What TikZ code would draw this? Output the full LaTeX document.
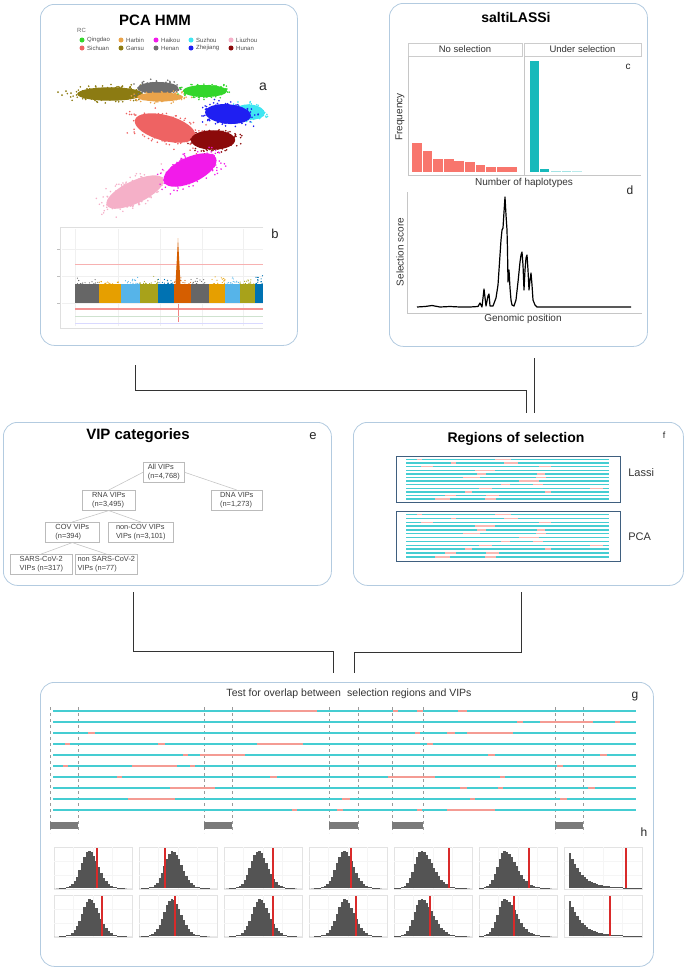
\documentclass[tikz,border=0pt]{standalone}
\usepackage{fontspec}
\setmainfont{Liberation Sans}
\usetikzlibrary{positioning}

\definecolor{panelblue}{HTML}{B3CBE0}
\definecolor{linkgray}{HTML}{333333}
\definecolor{boxgray}{HTML}{BBBBBB}
\definecolor{regframe}{HTML}{3F5F7F}
\definecolor{cqing}{HTML}{33D62B}
\definecolor{charb}{HTML}{E9A34A}
\definecolor{chaik}{HTML}{F21BEA}
\definecolor{csuz}{HTML}{3FE6F2}
\definecolor{cliu}{HTML}{F5B0C8}
\definecolor{csich}{HTML}{EE6363}
\definecolor{cgans}{HTML}{8C7B12}
\definecolor{chen}{HTML}{6E6E6E}
\definecolor{czhe}{HTML}{1F1FF2}
\definecolor{chun}{HTML}{8B0A0A}
\definecolor{mgray}{HTML}{666666}
\definecolor{morange}{HTML}{E69F00}
\definecolor{msky}{HTML}{56B4E9}
\definecolor{molive}{HTML}{A8A21A}
\definecolor{mblue}{HTML}{0072B2}
\definecolor{mverm}{HTML}{D55E00}
\definecolor{barred}{HTML}{F8766D}
\definecolor{barteal}{HTML}{17B9BB}
\definecolor{tealc}{HTML}{45CDD2}
\definecolor{pinkc}{HTML}{F49B93}
\definecolor{histc}{HTML}{545454}
\definecolor{redc}{HTML}{D92A2A}

\tikzset{
  panel/.style={draw=panelblue, line width=0.8pt, rounded corners=14pt, anchor=north west, inner sep=0pt},
  ptitle/.style={font=\bfseries\fontsize{15}{17}\selectfont},
  plab/.style={font=\fontsize{13}{14}\selectfont, text=black!85},
  legtext/.style={font=\fontsize{6}{7}\selectfont, text=black!70, anchor=west, inner sep=1pt},
  axlab/.style={font=\fontsize{10}{11}\selectfont, text=black!80},
  vipbox/.style={draw=boxgray, line width=0.6pt, align=left, font=\fontsize{7.4}{8.6}\selectfont, text=black!75, inner sep=1.5pt, anchor=north west, minimum height=20pt},
  vipedge/.style={draw=gray!45, line width=0.6pt},
  link/.style={draw=linkgray, line width=0.9pt},
  regbox/.style={draw=regframe, line width=0.8pt, anchor=north west, inner sep=0pt},
  tealline/.style={draw=tealc, line width=2pt},
  pinkline/.style={draw=pinkc, line width=2pt},
  cutline/.style={draw=gray!80, dashed, line width=0.6pt},
  redmark/.style={draw=redc, line width=2pt}
}

\begin{document}
\begin{tikzpicture}[x=1pt,y=-1pt]
\useasboundingbox (0,0) rectangle (685,970);
\pgfmathsetseed{11}
\newcommand{\cloud}[7]{%
  \begin{scope}[shift={(#1,#2)},rotate=#5]
    \fill[#6] (0,0) ellipse [x radius=#3*0.82, y radius=#4*0.75];
    \foreach \i in {1,...,#7}{
      \pgfmathsetmacro\ptx{(rand+rand+rand)*0.42*#3}
      \pgfmathsetmacro\pty{(rand+rand+rand)*0.42*#4}
      \fill[#6] (\ptx,\pty) circle[radius=0.9pt];
    }
  \end{scope}}
\newcommand{\hframe}[2]{%
  \draw[gray!22, line width=0.6pt] (#1,#2) rectangle ++(78,42);
  \foreach \g in {19.5,39,58.5} \draw[gray!8, line width=0.4pt] (#1+\g,#2) -- ++(0,42);
  \foreach \g in {14,28} \draw[gray!8, line width=0.4pt] (#1,#2+\g) -- ++(78,0);}
\newcommand{\histo}[6]{%
  \hframe{#1}{#2}
  \foreach \k in {0,...,31}{
    \pgfmathsetmacro\hcen{(\k+0.5)/32}
    \pgfmathsetmacro\sg{\hcen<#3 ? #5 : #6}
    \pgfmathsetmacro\hh{37*exp(-0.5*((\hcen-#3)/\sg)^2)}
    \fill[histc] (#1+2.4375*\k,#2+41) rectangle ++(2.45,-\hh);
  }
  \pgfmathsetmacro\rx{round(#1+78*#4)+0.5}
  \draw[redmark] (\rx,#2+1) -- (\rx,#2+41);}
\newcommand{\histd}[3]{%
  \hframe{#1}{#2}
  \foreach \k in {2,...,31}{
    \pgfmathsetmacro\hcen{(\k+0.5)/32}
    \pgfmathsetmacro\hh{37*exp(-(\hcen-0.07)/0.16)}
    \fill[histc] (#1+2.4375*\k,#2+41) rectangle ++(2.45,-\hh);
  }
  \pgfmathsetmacro\rx{round(#1+78*#3)+0.5}
  \draw[redmark] (\rx,#2+1) -- (\rx,#2+41);}
\newcommand{\regrows}[2]{%
  \pgfmathsetseed{5}
  \foreach \k in {0,...,11}{
    \draw[tealc, line width=1.4pt] (406,#1+#2*\k) -- (609,#1+#2*\k);
    \foreach \m in {1,2}{
      \pgfmathsetmacro\pa{406+185*rnd}
      \pgfmathsetmacro\pl{5+12*rnd}
      \draw[pinkc!70, line width=1.4pt] (\pa,#1+#2*\k) -- ++(\pl,0);
    }
  }}

% panels
\node[panel, minimum width=257, minimum height=341] (pcapanel) at (40,4) {};
\node[panel, minimum width=258, minimum height=343] (lassipanel) at (389,3) {};
\node[panel, minimum width=328, minimum height=163] (vippanel) at (3,422) {};
\node[panel, minimum width=330, minimum height=163] (regpanel) at (353,422) {};
\node[panel, minimum width=613, minimum height=284] (testpanel) at (40,682) {};

% PCA HMM
\node[ptitle] (pcatitle) at (155,20) {PCA HMM};
\node[legtext, text=black!60] (rc) at (76,30) {RC};
\foreach \nm/\col/\xx/\yy in {Qingdao/cqing/82/40, Harbin/charb/121/40, Haikou/chaik/156/40, Suzhou/csuz/191/40, Liuzhou/cliu/231/40,
    Sichuan/csich/82/48, Gansu/cgans/121/48, Henan/chen/156/48, Zhejiang/czhe/191/48, Hunan/chun/231/48} {
  \fill[\col] (\xx,\yy) circle[radius=2.5pt];
  \node[legtext] (leg\nm) at (\xx+4,\yy) {\nm};
}
\cloud{110}{94}{40}{9}{0}{cgans}{260}
\cloud{158}{88}{25}{8}{0}{chen}{180}
\cloud{160}{97}{28}{6}{0}{charb}{150}
\cloud{205}{91}{27}{8}{0}{cqing}{200}
\cloud{250}{112}{18}{10}{-5}{csuz}{120}
\cloud{228}{114}{28}{13}{-5}{czhe}{260}
\cloud{165}{128}{38}{17}{-15}{csich}{300}
\cloud{213}{140}{27}{13}{0}{chun}{240}
\cloud{135}{192}{38}{15}{25}{cliu}{280}
\cloud{190}{170}{35}{17}{25}{chaik}{280}
\foreach \ox/\oy in {58/92, 62/95, 66/91, 71/93}
  \fill[cgans] (\ox,\oy) circle[radius=1pt];
\node[plab, font=\fontsize{14}{15}\selectfont] (laba) at (263,87) {a};

% manhattan
\draw[gray!25, line width=0.6pt] (263,227) -- (60,227) -- (60,328) -- (263,328);
\foreach \gx in {75,118,160,202,243} \draw[gray!12, line width=0.4pt] (\gx,229) -- (\gx,326);
\foreach \gy in {249,276,303} {
  \draw[gray!12, line width=0.4pt] (62,\gy) -- (263,\gy);
  \draw[gray!50, line width=0.5pt] (57,\gy) -- (60,\gy);
}
\draw[csich!50, line width=0.6pt] (75,264) -- (263,264);
\foreach \xa/\xb/\col in {75/99/mgray, 99/121/morange, 121/140/msky, 140/158/molive, 158/174/mblue, 174/191/mverm,
    191/209/mgray, 209/225/morange, 225/240/msky, 240/255/molive, 255/263/mblue} {
  \fill[\col] (\xa,303) rectangle (\xb,284);
  \foreach \j in {1,...,14} {
    \pgfmathsetmacro\ptx{\xa+(\xb-\xa)*rnd}
    \pgfmathsetmacro\pty{284-9*rnd*rnd}
    \fill[\col] (\ptx,\pty) circle[radius=0.6pt];
  }
}
\fill[mverm] (175.5,284) -- (178,238) -- (180.5,284) -- cycle;
\draw[csich!70, line width=1.2pt] (75,309) -- (263,309);
\draw[csich!80, line width=1pt] (178,304) -- (178,322);
\draw[green!25!gray!30, line width=0.6pt] (75,316) -- (263,316);
\draw[blue!15, line width=0.6pt] (75,323) -- (263,323);
\node[plab] (labb) at (275,234) {b};

% saltiLASSi
\node[ptitle, font=\bfseries\fontsize{14}{16}\selectfont] (lassititle) at (516,17) {saltiLASSi};
\node[draw=gray!40, minimum width=114, minimum height=13, inner sep=0pt, font=\fontsize{9.5}{10}\selectfont, text=black!80] (nosel) at (465,49.5) {No selection};
\node[draw=gray!40, minimum width=117, minimum height=13, inner sep=0pt, font=\fontsize{9.5}{10}\selectfont, text=black!80] (undersel) at (582.5,49.5) {Under selection};
\draw[gray!45, line width=0.6pt] (408,56) -- (408,175) -- (641,175);
\draw[gray!45, line width=0.6pt] (524,56) -- (524,175);
\foreach \t [count=\k from 0] in {143,151,159,159,161,162,165,167,167,167}
  \fill[barred] (412+10.6*\k,172) rectangle ++(9.8,\t-172);
\fill[barteal] (530,172) rectangle (539,61);
\fill[barteal] (540,172) rectangle (549,169);
\fill[barteal!40] (551,172) rectangle (561,170.5);
\fill[barteal!40] (562,172) rectangle (571,171);
\fill[barteal!30] (572,172) rectangle (582,171);
\node[plab, font=\fontsize{10}{11}\selectfont] (labc) at (628,67) {c};
\node[axlab, rotate=90] (freq) at (400,117) {Frequency};
\node[axlab] (nhap) at (524,183) {Number of haplotypes};
\draw[gray!45, line width=0.6pt] (407,192) -- (407,313) -- (642,313);
\draw[black, line width=1.2pt, line join=round] plot coordinates {(417,307) (425,306.5) (432,305.5) (440,307) (450,306.5) (460,307) (470,307) (478,306.5)
  (480,303) (482,307) (484,289) (486,306) (488,296) (489,294) (490,306) (493,306) (496,298) (498,285) (500,255) (501,240) (502,230)
  (503,228) (504,212) (505,197) (506,215) (507,230) (507.5,250) (508,282) (509,270) (510,288) (511,300) (512,305) (514,306) (516,300)
  (518,282) (520,262) (521,255) (522,252) (523,265) (524,290) (525,270) (526,258) (527,255) (528,270) (529,290) (530,280) (531,273)
  (532,285) (533,300) (535,305) (537,307) (631,307)};
\node[plab, font=\fontsize{12}{13}\selectfont] (labd) at (630,190) {d};
\node[axlab, rotate=90] (selscore) at (400,252) {Selection score};
\node[axlab] (genpos) at (523,319) {Genomic position};

% VIP categories
\node[ptitle] (viptitle) at (138,436) {VIP categories};
\node[plab] (labe) at (313,436) {e};
\node[vipbox, minimum width=41] (allvip) at (143,462) {All VIPs\\(n=4,768)};
\node[vipbox, minimum width=53] (rnavip) at (82,490) {RNA VIPs\\(n=3,495)};
\node[vipbox, minimum width=51] (dnavip) at (211,490) {DNA VIPs\\(n=1,273)};
\node[vipbox, minimum width=54] (covvip) at (45,522) {COV VIPs\\(n=394)};
\node[vipbox, minimum width=65] (ncovvip) at (108,522) {non-COV VIPs\\VIPs (n=3,101)};
\node[vipbox, minimum width=62] (sarsvip) at (10,554) {SARS-CoV-2\\VIPs (n=317)};
\node[vipbox, minimum width=62] (nsarsvip) at (75,554) {non SARS-CoV-2\\VIPs (n=77)};
\draw[vipedge] (allvip.west) -- (rnavip.north);
\draw[vipedge] (allvip.east) -- (dnavip.north);
\draw[vipedge] (rnavip.south) -- (covvip.north);
\draw[vipedge] (rnavip.south) -- (ncovvip.north);
\draw[vipedge] (covvip.south) -- (sarsvip.north);
\draw[vipedge] (covvip.south) -- (nsarsvip.north);

% Regions of selection
\node[ptitle, font=\bfseries\fontsize{14}{16}\selectfont] (regtitle) at (516,439) {Regions of selection};
\node[plab, font=\fontsize{9}{10}\selectfont] (labf) at (664,435) {f};
\regrows{459.5}{3.6}
\regrows{514.5}{3.85}
\node[regbox, minimum width=224, minimum height=46] (lassibox) at (396,456) {};
\node[regbox, minimum width=224, minimum height=50] (pcabox) at (396,511) {};
\node[axlab, font=\fontsize{11}{12}\selectfont, right=4pt of lassibox.east, yshift=7pt] (lassilab) {Lassi};
\node[axlab, font=\fontsize{11}{12}\selectfont, right=4pt of pcabox.east] (pcalab) {PCA};

% overlap test
\node[font=\fontsize{10.5}{12}\selectfont, text=black!80] (testtitle) at (349,694) {Test for overlap between\hspace{0.6em}selection regions and VIPs};
\node[plab, font=\fontsize{12}{13}\selectfont] (labg) at (635,697) {g};
\foreach \cx in {50,78,204,232,329,358,392,423,555,583} \draw[cutline] (\cx,707) -- (\cx,833);
\foreach \ly/\segs in {711/{270/317,393/398,417/423,458/467}, 722/{517/523,540/593,615/620},
    733/{88/95,415/420,447/455,467/513}, 744/{65/70,158/165,257/303,427/433},
    755/{183/188,200/245,488/495,600/607}, 766/{63/68,132/177,190/195,557/563},
    777/{117/122,270/277,388/435,500/505}, 788/{170/215,460/467,498/503,588/595},
    799/{128/175,342/350,470/475,560/567}, 810/{292/297,337/343,417/422,447/495}} {
  \draw[tealline] (53,\ly) -- (636,\ly);
  \foreach \sa/\sb in \segs \draw[pinkline] (\sa,\ly) -- (\sb,\ly);
}
\foreach \xa/\xb in {50/78,204/232,329/358,392/423,555/583}
  \fill[gray!70!black!80] (\xa,822) rectangle (\xb,829);
\node[plab, font=\fontsize{12}{13}\selectfont] (labh) at (644,832) {h};
\foreach \hx/\pk/\rd/\sl/\sr in {54/0.45/0.54/0.1/0.12, 139/0.43/0.32/0.1/0.12, 224/0.44/0.62/0.1/0.12, 309/0.45/0.53/0.1/0.12, 394/0.35/0.69/0.09/0.15, 479/0.33/0.63/0.09/0.15}
  \histo{\hx}{847}{\pk}{\rd}{\sl}{\sr};
\histd{564}{847}{0.78}
\foreach \hx/\pk/\rd/\sl/\sr in {54/0.46/0.60/0.1/0.12, 139/0.42/0.45/0.1/0.12, 224/0.46/0.62/0.1/0.12, 309/0.46/0.59/0.1/0.12, 394/0.35/0.45/0.09/0.15, 479/0.33/0.44/0.09/0.15}
  \histo{\hx}{895}{\pk}{\rd}{\sl}{\sr};
\histd{564}{895}{0.58}

% connectors
\coordinate (pcaout) at (135,365);
\coordinate (pcajoin) at (135,390);
\coordinate (regin) at (526,413);
\coordinate (lassiout) at (534,358);
\coordinate (regin2) at (534,413);
\draw[link] (pcaout) -- (pcajoin) -| (regin);
\draw[link] (lassiout) -- (regin2);
\coordinate (vipout) at (133,592);
\coordinate (vipjoin) at (133,651);
\coordinate (testin) at (333,673);
\coordinate (regout) at (521,592);
\coordinate (regjoin) at (521,652);
\coordinate (testin2) at (354,673);
\draw[link] (vipout) -- (vipjoin) -| (testin);
\draw[link] (regout) -- (regjoin) -| (testin2);
\end{tikzpicture}
\end{document}
